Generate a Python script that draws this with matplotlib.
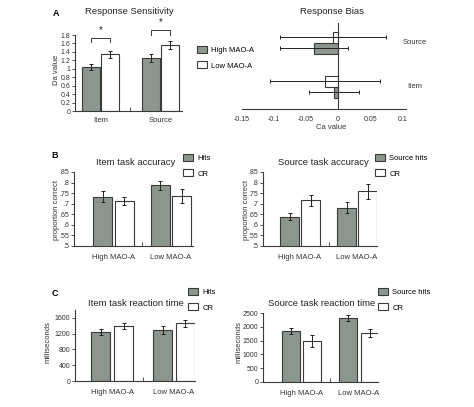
import numpy as np
import matplotlib
matplotlib.use("Agg")
import matplotlib.pyplot as plt
from matplotlib.patches import Patch
from matplotlib.ticker import FuncFormatter

plt.rcParams['font.family'] = ['Liberation Sans', 'DejaVu Sans']

# ---- data ----
conditions = ['Item', 'Source']
genotypes = ['High MAO-A', 'Low MAO-A']

sens_high = [1.04, 1.255]
sens_high_err = [0.07, 0.09]
sens_low = [1.34, 1.56]
sens_low_err = [0.09, 0.09]

bias_high = [-0.006, -0.037]
bias_high_err = [0.039, 0.053]
bias_low = [-0.02, -0.008]
bias_low_err = [0.086, 0.082]

item_acc_hits = [0.734, 0.787]
item_acc_hits_err = [0.024, 0.022]
item_acc_cr = [0.714, 0.738]
item_acc_cr_err = [0.02, 0.033]

src_acc_hits = [0.638, 0.682]
src_acc_hits_err = [0.017, 0.028]
src_acc_cr = [0.717, 0.758]
src_acc_cr_err = [0.026, 0.037]

item_rt_hits = [1230, 1289]
item_rt_hits_err = [76, 93]
item_rt_cr = [1398, 1458]
item_rt_cr_err = [80, 97]

src_rt_hits = [1848, 2319]
src_rt_hits_err = [120, 97]
src_rt_cr = [1486, 1787]
src_rt_cr_err = [200, 150]

GRAY = '#8c968e'
EDGE = '#3a3a3a'
W, H = 474, 407

fig = plt.figure(figsize=(W / 100, H / 100), dpi=100)


def px_axes(left, top, right, bottom):
    ax = fig.add_axes([left / W, 1 - bottom / H, (right - left) / W, (bottom - top) / H])
    ax.patch.set_alpha(0)
    return ax


def style(ax):
    for s in ['top', 'right']:
        ax.spines[s].set_visible(False)
    for s in ['left', 'bottom']:
        ax.spines[s].set_color(EDGE)
        ax.spines[s].set_linewidth(0.8)
    ax.tick_params(axis='y', length=2, width=0.6, labelsize=5, pad=1.5, colors='#333333')
    ax.tick_params(axis='x', length=0, labelsize=5.5, pad=5.5, colors='#333333')


def bar_panel(ax, labels, a, a_err, b, b_err, width, offset, xlim):
    x = np.arange(len(labels))
    ekw = dict(ecolor='#222222', elinewidth=0.7, capsize=1.2, capthick=0.7)
    ax.bar(x - offset, a, width, color=GRAY, edgecolor=EDGE, linewidth=0.8, yerr=a_err, error_kw=ekw)
    ax.bar(x + offset, b, width, color='white', edgecolor=EDGE, linewidth=0.8, yerr=b_err, error_kw=ekw)
    ax.set_xticks(x)
    ax.set_xticklabels(labels)
    ax.set_xticks([0.5], minor=True)
    ax.tick_params(axis='x', which='minor', direction='in', length=3, width=0.6, colors=EDGE)
    ax.set_xlim(*xlim)
    style(ax)


def legend_at(labels, left, top):
    handles = [Patch(facecolor=GRAY, edgecolor=EDGE, linewidth=0.8),
               Patch(facecolor='white', edgecolor=EDGE, linewidth=0.8)]
    fig.legend(handles, labels, loc='upper left', bbox_to_anchor=(left / W, 1 - top / H),
               bbox_transform=fig.transFigure, frameon=False, fontsize=5.5,
               handlelength=1.35, handleheight=1.05, handletextpad=0.5,
               labelspacing=0.95, borderpad=0, borderaxespad=0)


def fig_text(x, y, s, **kw):
    fig.text(x / W, 1 - y / H, s, **kw)


# ---- A: response sensitivity ----
ax = px_axes(75, 35, 182, 111)
bar_panel(ax, conditions, sens_high, sens_high_err, sens_low, sens_low_err,
          0.3, 0.165, (-0.425, 1.36))
ax.tick_params(axis='x', pad=4)
ax.set_ylim(0, 1.8)
ax.set_yticks(np.arange(0, 1.81, 0.2))
ax.yaxis.set_major_formatter(FuncFormatter(lambda v, p: f'{v:.1f}'.rstrip('0').rstrip('.') if v else '0'))
# significance brackets
for i, (top, low) in enumerate([(1.73, 1.63), (1.92, 1.8)]):
    xs = [i - 0.165, i - 0.165, i + 0.165, i + 0.165]
    ax.plot(xs, [low, top, top, low], color=EDGE, lw=0.7, clip_on=False)
    ax.text(i, top + 0.07, '*', ha='center', va='bottom', fontsize=7, color='#222222')
fig_text(56, 13, 'A', fontsize=6.5, fontweight='bold', ha='center', va='center')
fig_text(129, 12, 'Response Sensitivity', fontsize=6.8, ha='center', va='center', color='#222222')
fig_text(57, 70, 'Da value', fontsize=5.5, rotation=90, ha='center', va='center', color='#333333')
legend_at(genotypes, 197, 46)

# ---- A: response bias ----
ax = px_axes(242, 23, 406, 109)
y = np.arange(len(conditions))
h = 0.25
ekw = dict(ecolor='#222222', elinewidth=0.7, capsize=1.2, capthick=0.7)
ax.barh(y - h / 2, bias_high, h, xerr=bias_high_err, color=GRAY, edgecolor=EDGE, linewidth=0.8, error_kw=ekw)
ax.barh(y + h / 2, bias_low, h, xerr=bias_low_err, color='white', edgecolor=EDGE, linewidth=0.8, error_kw=ekw)
ax.axvline(0, color=EDGE, lw=0.8)
ax.set_xlim(-0.15, 0.106)
ax.set_ylim(-0.5, 1.45)
ax.set_yticks([])
ax.set_xticks([-0.15, -0.1, -0.05, 0, 0.05, 0.1])
ax.set_xticklabels(['-0.15', '-0.1', '-0.05', '0', '0.05', '0.1'])
for s in ['top', 'right', 'left']:
    ax.spines[s].set_visible(False)
ax.spines['bottom'].set_color(EDGE)
ax.spines['bottom'].set_linewidth(0.8)
ax.tick_params(axis='x', length=0, labelsize=5, pad=5, colors='#333333')
for yi, lab in zip(y, conditions):
    ax.text(0.119, yi, lab, ha='center', va='center', fontsize=5.5, color='#333333', clip_on=False)
fig_text(332, 12, 'Response Bias', fontsize=6.8, ha='center', va='center', color='#222222')
fig_text(331, 127, 'Ca value', fontsize=5.5, ha='center', va='center', color='#333333')

acc_fmt = FuncFormatter(lambda v, p: f'{v:.2f}'.rstrip('0').lstrip('0'))

# ---- B: item task accuracy ----
ax = px_axes(74, 172, 193, 246)
bar_panel(ax, genotypes, item_acc_hits, item_acc_hits_err, item_acc_cr, item_acc_cr_err,
          0.33, 0.185, (-0.687, 1.38))
ax.set_ylim(0.5, 0.85)
ax.set_yticks(np.arange(0.5, 0.851, 0.05))
ax.yaxis.set_major_formatter(acc_fmt)
fig_text(55, 155, 'B', fontsize=6.5, fontweight='bold', ha='center', va='center')
fig_text(136, 163, 'Item task accuracy', fontsize=6.8, ha='center', va='center', color='#222222')
fig_text(57, 210, 'proportion correct', fontsize=5.5, rotation=90, ha='center', va='center', color='#333333')
legend_at(['Hits', 'CR'], 183, 154)

# ---- B: source task accuracy ----
ax = px_axes(263, 172, 377, 246)
bar_panel(ax, genotypes, src_acc_hits, src_acc_hits_err, src_acc_cr, src_acc_cr_err,
          0.33, 0.185, (-0.65, 1.35))
ax.set_ylim(0.5, 0.85)
ax.set_yticks(np.arange(0.5, 0.851, 0.05))
ax.yaxis.set_major_formatter(acc_fmt)
fig_text(323, 163, 'Source task accuracy', fontsize=6.8, ha='center', va='center', color='#222222')
fig_text(246, 210, 'proportion correct', fontsize=5.5, rotation=90, ha='center', va='center', color='#333333')
legend_at(['Source hits', 'CR'], 375, 154)

# ---- C: item task reaction time ----
ax = px_axes(75, 310, 195, 381)
bar_panel(ax, genotypes, item_rt_hits, item_rt_hits_err, item_rt_cr, item_rt_cr_err,
          0.31, 0.185, (-0.6, 1.34))
ax.set_ylim(0, 1800)
ax.set_yticks(np.arange(0, 1601, 400))
fig_text(55, 293, 'C', fontsize=6.5, fontweight='bold', ha='center', va='center')
fig_text(136, 303, 'Item task reaction time', fontsize=6.8, ha='center', va='center', color='#222222')
fig_text(48, 342, 'milliseconds', fontsize=5.5, rotation=90, ha='center', va='center', color='#333333')
legend_at(['Hits', 'CR'], 188, 288)

# ---- C: source task reaction time ----
ax = px_axes(263, 313, 378, 382)
bar_panel(ax, genotypes, src_rt_hits, src_rt_hits_err, src_rt_cr, src_rt_cr_err,
          0.31, 0.185, (-0.67, 1.33))
ax.set_ylim(0, 2500)
ax.set_yticks(np.arange(0, 2501, 500))
fig_text(322, 303, 'Source task reaction time', fontsize=6.8, ha='center', va='center', color='#222222')
fig_text(239, 342, 'milliseconds', fontsize=5.5, rotation=90, ha='center', va='center', color='#333333')
legend_at(['Source hits', 'CR'], 378, 288)

fig.savefig('out.png', dpi=100, facecolor='white')
